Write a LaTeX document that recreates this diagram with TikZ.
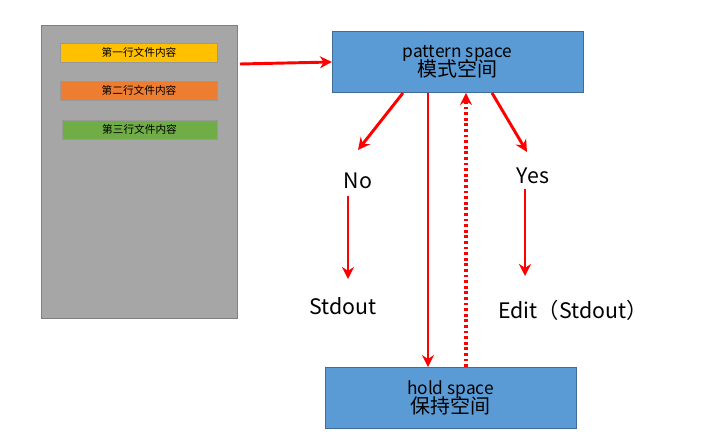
\documentclass[tikz,border=0pt]{standalone}
\usepackage{fontspec}
\setmainfont{Noto Sans CJK SC}
\usetikzlibrary{arrows.meta}
\definecolor{boxblue}{HTML}{5B9BD5}
\definecolor{panel}{HTML}{A6A6A6}
\tikzset{
  ar/.style={draw=red, line width=2.2pt, -{Stealth[length=9pt,width=9pt]}},
  bluebox/.style={draw=boxblue!70!black, fill=boxblue, minimum width=188pt, minimum height=46pt, align=center, inner sep=0pt, font=\fontsize{13}{15}\selectfont},
  line/.style={draw=black!40, minimum width=118pt, minimum height=14pt, inner sep=0pt, font=\fontsize{8}{9}\selectfont},
  lbl/.style={font=\fontsize{16}{18}\selectfont, inner sep=1pt}
}
\begin{document}
\begin{tikzpicture}[x=0.75pt,y=-0.75pt]
\useasboundingbox (0,0) rectangle (706,441);
\node[draw=black!50, fill=panel, minimum width=147pt, minimum height=220pt, inner sep=0pt] (panel) at (139,171.5) {};
\node[line, fill={rgb,255:red,255;green,192;blue,0}] (l1) at (139,52.5) {第一行文件内容};
\node[line, fill={rgb,255:red,237;green,125;blue,49}] (l2) at (139,90.5) {第二行文件内容};
\node[line, fill={rgb,255:red,112;green,173;blue,71}, minimum width=116pt] (l3) at (139.5,129.5) {第三行文件内容};
\node[bluebox] (ps) at (457.5,62) {pattern space\\[-2pt]{\fontsize{15}{17}\selectfont 模式空间}};
\node[bluebox] (hs) at (450.5,398) {hold space\\[-2pt]{\fontsize{15}{17}\selectfont 保持空间}};
\node[lbl] (no) at (358,181) {No};
\node[lbl] (so) at (343,306) {Stdout};
\node[lbl] (yes) at (533,176) {Yes};
\node[lbl] (ed) at (573,310) {Edit（Stdout）};
\coordinate (a1) at (240,64);
\draw[ar] (a1) -- (ps.west |- 0,62);
\draw[ar] (ps.south -| 403,0) -- (358,150);
\draw[ar] (no.south -| 348,0) ++(0,5) -- (348,279);
\draw[ar] (ps.south -| 492,0) -- (527,152);
\draw[ar] (yes.south -| 525,0) ++(0,3) -- (525,276);
\draw[ar] (ps.south -| 428,0) -- (hs.north -| 428,0);
\draw[ar, dotted, line width=3pt] (hs.north -| 466,0) -- (ps.south -| 466,0);
\end{tikzpicture}
\end{document}
